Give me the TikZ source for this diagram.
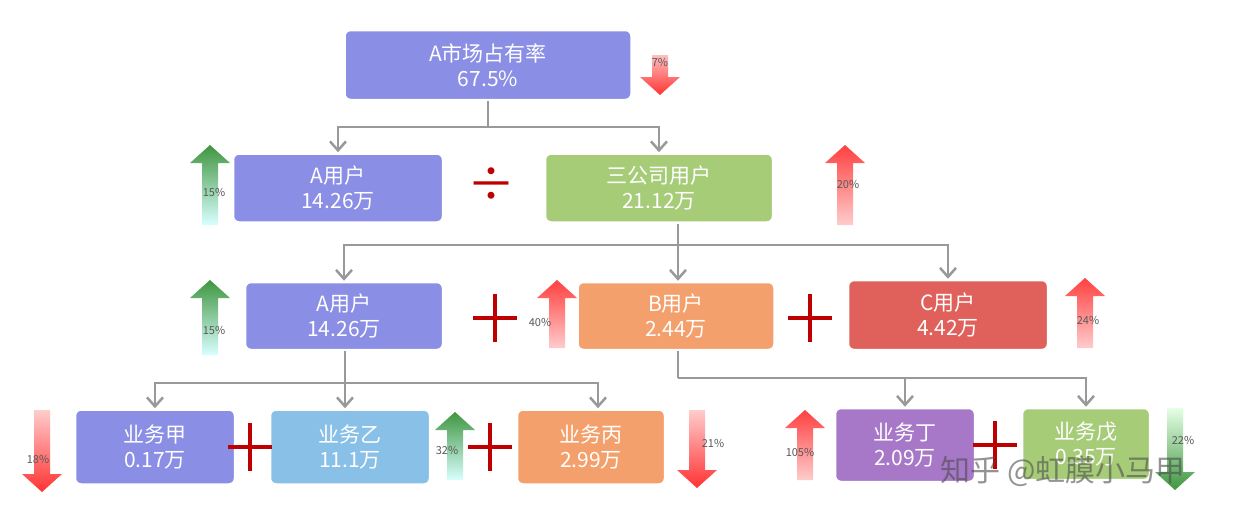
\documentclass[tikz,border=0pt]{standalone}
\usepackage{fontspec}
\setmainfont{Noto Sans CJK SC}
\usetikzlibrary{positioning,arrows.meta}
\newlength{\lwidth}
\setlength{\lwidth}{2.5pt}
\definecolor{boxblue}{RGB}{138,142,228}
\definecolor{boxgreen}{RGB}{166,204,120}
\definecolor{boxorange}{RGB}{244,160,108}
\definecolor{boxred}{RGB}{224,96,92}
\definecolor{boxsky}{RGB}{136,192,232}
\definecolor{boxpurple}{RGB}{168,120,200}
\tikzset{
  box/.style={draw=white,line width=\lwidth,rounded corners=6pt,text=white,
    font=\fontsize{21}{25}\selectfont,align=center,inner sep=0pt},
  link/.style={draw=gray!80,line width=\lwidth,-{Straight Barb[length=9pt,width=16pt]}},
  plus/.style={red!75!black,line width=3.5pt},
  pct/.style={font=\fontsize{11}{12}\selectfont,text=gray!70!black}
}
% fat arrow: x, y of tail, y of head, top colour, bottom colour
\newcommand{\fatarrow}[5]{%
  \shade[top color=#4,bottom color=#5]
    (#1-8,#2) -- (#1-8,{#3+(#2>#3?18:-18)}) -- (#1-20,{#3+(#2>#3?18:-18)}) -- (#1,#3)
    -- (#1+20,{#3+(#2>#3?18:-18)}) -- (#1+8,{#3+(#2>#3?18:-18)}) -- (#1+8,#2) -- cycle;}
\begin{document}
\begin{tikzpicture}[x=1pt,y=-1pt]
  \useasboundingbox[fill=white] (0,0) rectangle (1248,525);

  %% level 1
  \node[box,fill=boxblue,minimum width=287pt,minimum height=70pt] (share) at (488,65) {A市场占有率\\67.5\%};

  %% level 2
  \node[box,fill=boxblue,minimum width=210pt,minimum height=69pt] (ua) at (338,188) {A用户\\14.26万};
  \node[box,fill=boxgreen,minimum width=228pt,minimum height=69pt] (uall) at (659,188) {三公司用户\\21.12万};
  \node[red!75!black,font=\fontsize{48}{48}\selectfont] (div) at (491,185) {÷};

  %% level 3
  \node[box,fill=boxblue,minimum width=198pt,minimum height=68pt] (ua2) at (344,316) {A用户\\14.26万};
  \node[box,fill=boxorange,minimum width=197pt,minimum height=68pt] (ub) at (676,316) {B用户\\2.44万};
  \node[box,fill=boxred,minimum width=200pt,minimum height=70pt] (uc) at (948,315) {C用户\\4.42万};

  %% level 4
  \node[box,fill=boxblue,minimum width=160pt,minimum height=75pt] (bj) at (155,447) {业务甲\\0.17万};
  \node[box,fill=boxsky,minimum width=160pt,minimum height=75pt] (by) at (350,447) {业务乙\\11.1万};
  \node[box,fill=boxorange,minimum width=148pt,minimum height=75pt] (bb) at (591,447) {业务丙\\2.99万};
  \node[box,fill=boxpurple,minimum width=140pt,minimum height=74pt] (bd) at (905,445) {业务丁\\2.09万};
  \node[box,fill=boxgreen,minimum width=128pt,minimum height=72pt] (bw) at (1086,444) {业务戊\\0.35万};

  %% plus signs
  \foreach \px/\py in {495/318,810/318,250/447,490/447,995/445}
    \draw[plus] (\px-22,\py) -- (\px+22,\py) (\px,\py-24) -- (\px,\py+24);

  %% connectors
  \coordinate (j1) at (488,127);
  \draw[line width=\lwidth,gray!80] (share.south) -- (j1);
  \draw[link] (j1) -| (ua.north);
  \draw[link] (j1) -| (uall.north);
  \coordinate (j2) at (678,245);
  \draw[line width=\lwidth,gray!80] (uall.south -| j2) -- (j2);
  \draw[link] (j2) -| (ua2.north);
  \draw[link] (j2) -- (ub.north -| j2);
  \draw[link] (j2) -| (uc.north);
  \coordinate (j3) at (345,383);
  \draw[line width=\lwidth,gray!80] (ua2.south -| j3) -- (j3);
  \draw[link] (j3) -| (bj.north);
  \draw[link] (j3) -- (by.north -| j3);
  \draw[link] (j3) -| (bb.north -| 598,0);
  \coordinate (j4) at (678,378);
  \draw[line width=\lwidth,gray!80] (ub.south -| j4) -- (j4);
  \draw[link] (j4) -| (bd.north);
  \draw[link] (j4) -| (bw.north);

  %% change arrows
  \fatarrow{660}{55}{95}{red!25}{red!80}
  \node[pct] (p1) at (660,62) {7\%};
  \fatarrow{210}{225}{145}{green!45!black!75}{cyan!15}
  \node[pct] (p2) at (214,192) {15\%};
  \fatarrow{845}{225}{145}{red!75}{red!20}
  \node[pct] (p3) at (848,184) {20\%};
  \fatarrow{210}{355}{280}{green!45!black!75}{cyan!15}
  \node[pct] (p4) at (214,330) {15\%};
  \fatarrow{557}{348}{280}{red!75}{red!20}
  \node[pct] (p5) at (540,322) {40\%};
  \fatarrow{1085}{348}{278}{red!75}{red!20}
  \node[pct] (p6) at (1088,320) {24\%};
  \fatarrow{42}{410}{492}{red!20}{red!80}
  \node[pct] (p7) at (38,459) {18\%};
  \fatarrow{455}{480}{412}{green!45!black!75}{cyan!15}
  \node[pct] (p8) at (447,450) {32\%};
  \fatarrow{697}{410}{488}{red!20}{red!80}
  \node[pct] (p9) at (713,443) {21\%};
  \fatarrow{805}{480}{410}{red!75}{red!20}
  \node[pct] (p10) at (800,452) {105\%};
  \fatarrow{1175}{408}{490}{green!10}{green!45!black!75}
  \node[pct] (p11) at (1183,440) {22\%};

  %% watermark
  \node[text=gray!60!black,font=\fontsize{30}{32}\selectfont,opacity=0.6,
        inner sep=0pt] (mark) at (1063,471) {知乎 @虹膜小马甲};
\end{tikzpicture}
\end{document}
